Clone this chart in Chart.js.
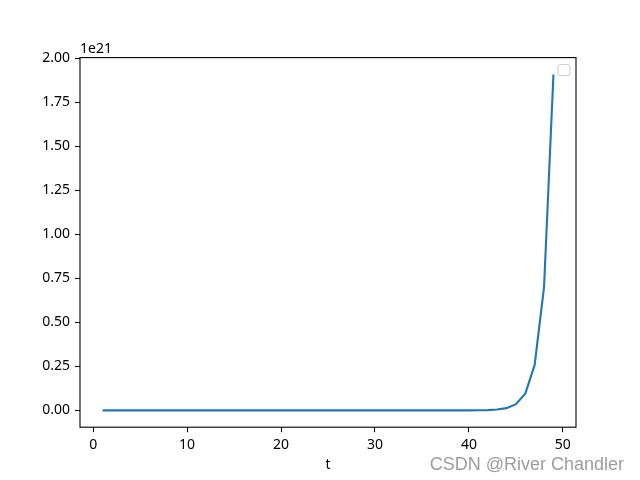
<!DOCTYPE html>
<html>
<head>
<meta charset="utf-8">
<script src="https://cdn.jsdelivr.net/npm/chart.js@4/dist/chart.umd.min.js"></script>
<style>
  html, body { margin: 0; padding: 0; background: #fff; }
  #wrap { width: 640px; height: 480px; }
</style>
</head>
<body>
<div id="wrap"><canvas id="chart" width="640" height="480"></canvas></div>
<script>
// data
const tValues = [1, 2, 3, 4, 5, 6, 7, 8, 9, 10, 11, 12, 13, 14, 15, 16, 17, 18, 19, 20,
    21, 22, 23, 24, 25, 26, 27, 28, 29, 30, 31, 32, 33, 34, 35, 36, 37, 38, 39, 40,
    41, 42, 43, 44, 45, 46, 47, 48, 49];
const yValues = [2.718, 7.389, 20.09, 54.60, 148.4, 403.4, 1097, 2981, 8103, 22026,
    5.987e4, 1.628e5, 4.424e5, 1.203e6, 3.269e6, 8.886e6, 2.415e7, 6.566e7, 1.785e8, 4.852e8,
    1.319e9, 3.585e9, 9.745e9, 2.649e10, 7.200e10, 1.957e11, 5.320e11, 1.446e12, 3.931e12, 1.069e13,
    2.905e13, 7.896e13, 2.146e14, 5.835e14, 1.586e15, 4.311e15, 1.172e16, 3.186e16, 8.659e16, 2.354e17,
    6.397e17, 1.739e18, 4.727e18, 1.285e19, 3.493e19, 9.496e19, 2.581e20, 7.016e20, 1.907e21];
const xTicks = [0, 10, 20, 30, 40, 50];
const yTicks = [0, 0.25e21, 0.5e21, 0.75e21, 1.0e21, 1.25e21, 1.5e21, 1.75e21, 2.0e21];
const yOffsetLabel = '1e21';
const xLabel = 't';
const watermark = 'CSDN @River Chandler';

const font = '"Noto Sans", "DejaVu Sans", sans-serif';

const decorations = {
    id: 'decorations',
    afterDraw(chart) {
        const ctx = chart.ctx;
        const a = chart.chartArea;
        ctx.save();
        // axes box
        ctx.strokeStyle = '#000';
        ctx.lineWidth = 1.1;
        ctx.strokeRect(a.left, a.top, a.right - a.left, a.bottom - a.top);
        // empty legend frame
        const lx = a.right - 18, ly = a.top + 7, lw = 12, lh = 11, r = 2;
        ctx.fillStyle = 'rgba(255,255,255,0.8)';
        ctx.strokeStyle = '#cccccc';
        ctx.lineWidth = 1;
        ctx.beginPath();
        ctx.roundRect(lx, ly, lw, lh, r);
        ctx.fill();
        ctx.stroke();
        // offset label and axis label
        ctx.fillStyle = '#000';
        ctx.font = '14px ' + font;
        ctx.textAlign = 'left';
        ctx.textBaseline = 'alphabetic';
        ctx.fillText(yOffsetLabel, a.left, a.top - 5);
        ctx.textAlign = 'center';
        ctx.fillText(xLabel, (a.left + a.right) / 2, 469);
        // watermark
        ctx.font = '18px "Liberation Sans", Arial, sans-serif';
        ctx.textAlign = 'right';
        ctx.fillStyle = 'rgba(140,140,140,0.85)';
        ctx.fillText(watermark, 624, 470);
        ctx.restore();
    }
};

new Chart(document.getElementById('chart').getContext('2d'), {
    type: 'line',
    data: {
        datasets: [{
            data: tValues.map((t, i) => ({ x: t, y: yValues[i] })),
            borderColor: '#1f77b4',
            borderWidth: 2.1,
            pointRadius: 0,
            tension: 0,
            fill: false
        }]
    },
    options: {
        responsive: false,
        animation: false,
        layout: { padding: { top: 57.6, right: 64, left: 0, bottom: 0 } },
        plugins: { legend: { display: false }, tooltip: { enabled: false } },
        scales: {
            x: {
                type: 'linear',
                min: -1.4,
                max: 51.4,
                afterBuildTicks: s => { s.ticks = xTicks.map(v => ({ value: v })); },
                afterFit: s => { s.height = 52.8; },
                grid: { drawOnChartArea: false, tickLength: 5, color: '#000', tickWidth: 1.1 },
                border: { display: false },
                ticks: { color: '#000', padding: 4, maxRotation: 0, font: { size: 14, family: font }, callback: v => String(v) }
            },
            y: {
                type: 'linear',
                min: -0.0954e21,
                max: 2.0027e21,
                afterBuildTicks: s => { s.ticks = yTicks.map(v => ({ value: v })); },
                afterFit: s => { s.width = 80; },
                grid: { drawOnChartArea: false, tickLength: 5, color: '#000', tickWidth: 1.1 },
                border: { display: false },
                ticks: { color: '#000', padding: 5, font: { size: 14, family: font }, callback: v => (v / 1e21).toFixed(2) }
            }
        }
    },
    plugins: [decorations]
});
</script>
</body>
</html>
